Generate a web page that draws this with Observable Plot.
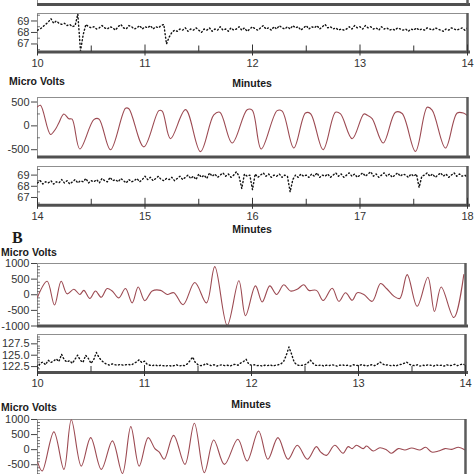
<!DOCTYPE html>
<html><head><meta charset="utf-8">
<script src="https://cdn.jsdelivr.net/npm/d3@7"></script>
<script src="https://cdn.jsdelivr.net/npm/@observablehq/plot@0.6"></script>
<style>
body{margin:0;background:#fff;}
#c{position:relative;width:474px;height:474px;overflow:hidden;background:#fff;}
#c svg{position:absolute;left:0;}
</style></head><body><div id="c"></div>
<script>
// ---------- DATA ----------
// Panel A, 10–14 min, dotted trace (sampled every 0.025 min)
const a1Start = 10, a1Step = 0.025;
const a1Values = [
68.2,68.3,68.5,68.7,68.9,69.2,68.8,69.0,68.8,68.7,68.8,68.6,68.7,68.5,68.6,69.6,66.4,67.8,68.7,68.5,
68.4,68.5,68.3,68.4,68.6,68.4,68.3,68.5,68.4,68.2,68.5,68.7,68.4,68.3,68.6,68.5,68.3,68.4,68.6,68.3,68.5,68.4,68.6,68.3,68.5,68.4,68.6,68.7,
67.0,67.6,68.0,68.2,68.1,
68.3,68.2,68.4,68.1,68.3,68.2,68.4,68.2,68.0,68.3,
68.2,68.4,68.1,68.3,68.2,68.5,68.2,68.3,68.1,68.4,
68.2,68.3,68.5,68.2,68.4,68.1,68.3,68.5,68.3,68.2,
68.4,68.6,68.3,68.4,68.2,68.5,68.3,68.6,68.4,68.3,
68.5,68.3,68.6,68.4,68.5,68.2,68.4,68.6,68.3,68.5,
68.4,68.6,68.3,68.5,68.7,68.4,68.5,68.3,68.4,68.2,
68.3,68.2,68.3,68.5,68.3,68.6,68.4,68.5,68.3,68.6,
68.4,68.5,68.3,68.4,68.2,68.5,68.3,68.4,68.2,68.3,
68.2,68.4,68.3,68.2,68.3,68.1,68.3,68.2,68.4,68.2,
68.3,68.2,68.4,68.3,68.2,68.4,68.3,68.2,68.1,68.3,
68.2,68.4,68.3,68.2,68.3,68.4,68.2,68.4
];
// Panel A, 14–18 min, red EEG trace (Micro Volts)
const a2Times = [14.000,14.028,14.121,14.167,14.198,14.245,14.291,14.322,14.394,14.524,14.571,14.679,14.819,14.850,14.989,15.129,15.160,15.237,15.377,15.516,15.640,15.696,15.811,15.950,15.997,16.081,16.229,16.276,16.384,16.493,16.540,16.657,16.772,16.819,16.927,17.036,17.070,17.113,17.216,17.330,17.392,17.516,17.625,17.671,17.795,17.904,17.966,18.000];
const a2Values = [400,430,-180,-70,60,250,150,140,-485,130,145,-500,370,360,-440,320,310,-270,340,-540,230,285,-360,340,330,-485,320,310,-465,270,255,-500,285,250,-270,250,220,150,-360,285,260,-535,390,330,-465,270,265,215];
// Panel A, 14–18 min, dotted trace
const a3Start = 14, a3Step = 0.025;
const a3Values = [
68.3,68.5,68.2,68.4,68.3,68.5,68.2,68.4,68.3,68.6,68.3,68.5,68.2,68.4,68.6,68.3,68.5,68.4,68.7,68.3,
68.5,68.4,68.6,68.3,68.7,68.5,68.4,68.8,68.5,68.6,68.4,68.7,68.5,68.3,68.6,68.4,68.5,68.7,68.4,68.6,
68.9,68.6,68.8,68.5,68.7,68.9,68.6,68.5,68.7,68.6,68.8,68.5,68.7,68.9,68.6,68.8,69.0,68.7,68.9,68.6,
69.1,68.8,69.0,68.7,69.2,68.9,69.1,68.8,69.0,69.2,68.9,69.1,68.8,69.0,69.3,68.9,67.8,69.1,68.9,69.0,
67.7,69.1,68.8,69.0,69.2,68.9,69.1,68.8,69.0,68.9,69.1,68.8,69.0,68.9,67.5,68.6,69.0,68.8,69.1,68.9,
69.0,68.8,69.1,68.9,69.2,68.8,69.0,68.9,69.1,68.8,69.0,69.2,68.9,69.1,68.8,69.0,69.2,68.9,69.1,68.8,
69.0,69.2,68.9,69.1,69.3,68.9,69.1,68.8,69.0,69.2,68.9,69.1,68.8,69.0,69.2,68.9,69.1,69.0,68.8,69.1,
68.9,69.1,67.9,68.9,69.0,69.2,68.9,69.1,68.8,69.0,69.2,68.9,69.1,68.8,69.0,69.2,68.9,69.1,68.9,69.0,68.8
];
// Panel B, 10–14 min, red EEG trace
const b1Times = [10.000,10.090,10.159,10.221,10.277,10.340,10.396,10.433,10.489,10.542,10.595,10.651,10.698,10.760,10.822,10.885,10.941,11.003,11.072,11.150,11.212,11.274,11.361,11.470,11.579,11.657,11.773,11.882,11.944,12.037,12.100,12.171,12.234,12.302,12.364,12.427,12.489,12.536,12.607,12.670,12.754,12.816,12.879,12.941,12.988,13.050,13.128,13.206,13.262,13.330,13.386,13.455,13.548,13.648,13.710,13.773,13.891,13.984];
const b1Values = [-80,430,-330,430,30,175,10,140,-120,120,-80,200,120,-100,200,-260,250,-190,120,140,10,65,-320,390,-260,900,-980,450,-670,285,-230,285,10,320,120,175,320,140,140,-185,210,-210,65,-175,65,10,-210,360,200,-45,-120,645,-370,560,-535,250,-730,645];
// Panel B, 10–14 min, dotted trace
const b2Start = 10, b2Step = 0.025;
const b2Values = [
122.1,123.2,123.5,122.9,123.9,123.4,123.7,124.2,123.6,125.2,124.0,123.5,123.8,123.2,124.1,125.0,123.9,123.4,125.0,124.3,
123.2,124.0,125.6,124.5,123.8,123.3,123.0,122.8,123.1,122.9,122.8,123.0,122.8,122.9,123.0,122.8,123.2,123.5,124.0,123.4,
123.7,123.0,122.8,122.7,122.9,122.6,122.8,122.7,122.6,122.8,122.6,122.7,122.9,122.6,122.8,122.7,123.1,123.8,124.6,123.4,
122.9,122.7,122.8,123.2,122.9,122.7,122.9,122.6,122.8,122.9,122.7,122.8,122.6,122.9,123.0,122.8,123.3,123.6,124.1,123.0,
122.8,122.9,122.7,122.8,122.6,122.8,122.7,122.9,122.6,122.8,122.9,123.1,123.6,125.0,126.8,125.2,123.4,122.9,122.7,122.8,
122.9,123.3,123.9,123.2,122.8,122.7,122.9,122.6,122.8,122.7,122.9,122.8,122.6,122.8,122.9,122.7,122.8,122.6,122.9,122.8,
122.7,122.9,122.8,122.6,122.8,122.9,122.7,123.0,123.5,123.1,122.8,122.9,122.7,122.8,122.6,122.9,123.0,123.2,123.5,123.0,
122.8,122.7,122.9,122.6,122.8,122.7,122.9,122.8,122.6,122.9,122.7,122.8,122.6,122.9,122.7,122.8,123.0,122.7,122.9,123.1,122.8
];
// Panel B, 14–18 min, red EEG trace
const b3Times = [14.003,14.044,14.153,14.247,14.316,14.409,14.497,14.597,14.700,14.794,14.872,14.950,15.034,15.097,15.138,15.184,15.272,15.378,15.466,15.559,15.647,15.747,15.872,15.959,16.066,16.153,16.247,16.341,16.428,16.522,16.606,16.647,16.700,16.778,16.856,16.903,16.941,16.981,17.044,17.075,17.138,17.200,17.263,17.309,17.372,17.434,17.497,17.575,17.628,17.684,17.747,17.809,17.872,17.934,17.997];
const b3Values = [-430,-710,590,-655,990,-545,400,-655,290,-790,765,-545,400,35,-80,-320,475,-490,875,-765,320,-490,345,-375,620,-320,400,-320,145,-320,100,-80,-190,145,-120,100,35,145,35,120,-45,65,-10,-120,35,-10,55,-10,80,-80,-45,35,10,80,-10];

// Tick values
const minutesA1 = [10,11,12,13,14], halvesA1 = [10.5,11.5,12.5,13.5];
const minutesA3 = [14,15,16,17,18], halvesA3 = [14.5,15.5,16.5,17.5];
const minutesB2 = [10,11,12,13,14], halvesB2 = [10.5,11.5,12.5,13.5];
const ticksDotA = [67,68,69], minorDotA = [66.5,67.5,68.5,69.5];
const ticksRedA = [-500,0,500], minorRedA = [-250,250];
const ticksRedB = [-1000,-500,0,500,1000];
const ticksRedB3 = [-500,0,500,1000];
const minorRedB = [-900,-800,-700,-600,-400,-300,-200,-100,100,200,300,400,600,700,800,900];
const ticksDotB = [122.5,125.0,127.5], minorDotB = [122,123,123.5,124,124.5,125.5,126,126.5,127,128,128.5,129];

// ---------- DRAWING ----------
const container = document.getElementById("c");
const W = 474, LEFT = 37;
const RED = "#9c4a52";
const FONT = "'Liberation Sans', Arial, sans-serif";
const fmt = d => (Number.isInteger(d) ? String(d) : d.toFixed(1));
const fmtB = d => d.toFixed(1);

function series(start, step, values) {
  return values.map((v, i) => ({t: start + i * step, v}));
}
function pairs(times, values) {
  return times.map((t, i) => ({t, v: values[i]}));
}

function panel(cfg) {
  const {top, bottom, right, xDomain, yDomain} = cfg;
  const fh = bottom - top, fw = right - LEFT;
  const mt = 6, mb = 26;
  const marks = [Plot.frame({stroke: "#8f8f8f", strokeWidth: 1})];
  if (cfg.yMinor) marks.push(Plot.tickY(cfg.yMinor, {y: d => d, insetRight: fw - 3, stroke: "#555", strokeWidth: 0.8}));
  if (cfg.yTicks) marks.push(Plot.axisY(cfg.yTicks, {tickSize: 6, tickPadding: 2, fontSize: 11, label: null, tickFormat: cfg.yFormat || fmt, stroke: "#444", fill: "#333"}));
  if (cfg.dots) marks.push(Plot.line(cfg.dots, {x: "t", y: "v", stroke: "#111", strokeWidth: 1.4, strokeDasharray: "1,2.6", clip: true}));
  if (cfg.wave) marks.push(Plot.line(cfg.wave, {x: "t", y: "v", stroke: RED, strokeWidth: 1.1, curve: "catmull-rom", clip: true}));
  marks.push(Plot.ruleY([yDomain[0]], {stroke: "#505050", strokeWidth: 3, insetRight: -3}));
  marks.push(Plot.ruleX([xDomain[1]], {stroke: "#5c5c5c", strokeWidth: 2.5}));
  if (cfg.xMajor) {
    marks.push(Plot.tickX(cfg.xMajor, {x: d => d, insetTop: fh - 7, stroke: "#333"}));
    marks.push(Plot.tickX(cfg.xHalf, {x: d => d, insetTop: fh - 6, stroke: "#333"}));
    marks.push(Plot.axisX(cfg.xMajor, {tickSize: 4, tickPadding: 3, fontSize: 11, label: null, tickFormat: d => String(d), stroke: "#333", fill: "#333"}));
  }
  const fig = Plot.plot({
    width: W, height: fh + mt + mb,
    marginLeft: LEFT, marginRight: W - right, marginTop: mt, marginBottom: mb,
    x: {domain: xDomain, axis: null},
    y: {domain: yDomain, axis: null},
    style: {background: "none", fontFamily: FONT, color: "#333", overflow: "visible"},
    marks
  });
  fig.style.top = (top - mt) + "px";
  container.append(fig);
}

// remnant of the panel above (only its bottom edge is visible)
panel({top: -40, bottom: 4, right: 467, xDomain: [10, 14], yDomain: [0, 1]});

panel({top: 12.5, bottom: 51, right: 467, xDomain: [10, 14], yDomain: [66.3, 69.65],
  yTicks: ticksDotA, yMinor: minorDotA, dots: series(a1Start, a1Step, a1Values),
  xMajor: minutesA1, xHalf: halvesA1});

panel({top: 96.5, bottom: 156, right: 467, xDomain: [14, 18], yDomain: [-653, 595],
  yTicks: ticksRedA, yMinor: minorRedA, wave: pairs(a2Times, a2Values)});

panel({top: 165.7, bottom: 204.5, right: 467, xDomain: [14, 18], yDomain: [66.3, 69.77],
  yTicks: ticksDotA, yMinor: minorDotA, dots: series(a3Start, a3Step, a3Values),
  xMajor: minutesA3, xHalf: halvesA3});

panel({top: 263, bottom: 325.5, right: 465, xDomain: [10, 14], yDomain: [-1000, 1000],
  yTicks: ticksRedB, yMinor: minorRedB, wave: pairs(b1Times, b1Values)});

panel({top: 334, bottom: 372, right: 465, xDomain: [10, 14], yDomain: [121.2, 129.55],
  yTicks: ticksDotB, yMinor: minorDotB, yFormat: fmtB, dots: series(b2Start, b2Step, b2Values),
  xMajor: minutesB2, xHalf: halvesB2});

panel({top: 418.7, bottom: 479, right: 465, xDomain: [14, 18], yDomain: [-1000, 1000],
  yTicks: ticksRedB3, yMinor: minorRedB, wave: pairs(b3Times, b3Values)});

// ---------- LABELS ----------
const labels = [
  {text: "Micro Volts", x: 9, y: 85, anchor: "start", size: 10.5, family: FONT},
  {text: "Minutes", x: 252, y: 87, anchor: "middle", size: 10.5, family: FONT},
  {text: "Minutes", x: 252, y: 233, anchor: "middle", size: 10.5, family: FONT},
  {text: "B", x: 12, y: 243, anchor: "start", size: 16, family: "'Liberation Serif', 'Times New Roman', serif"},
  {text: "Micro Volts", x: 1, y: 256, anchor: "start", size: 10.5, family: FONT},
  {text: "Micro Volts", x: 1, y: 411, anchor: "start", size: 10.5, family: FONT},
  {text: "Minutes", x: 251, y: 408, anchor: "middle", size: 10.5, family: FONT}
];
const svgNS = "http://www.w3.org/2000/svg";
const overlay = document.createElementNS(svgNS, "svg");
overlay.setAttribute("width", W); overlay.setAttribute("height", 474);
overlay.style.top = "0px";
for (const l of labels) {
  const t = document.createElementNS(svgNS, "text");
  t.setAttribute("x", l.x); t.setAttribute("y", l.y);
  t.setAttribute("text-anchor", l.anchor);
  t.setAttribute("font-family", l.family);
  t.setAttribute("font-size", l.size);
  t.setAttribute("font-weight", "bold");
  t.setAttribute("fill", "#1a1a1a");
  t.textContent = l.text;
  overlay.append(t);
}
container.append(overlay);
</script></body></html>
